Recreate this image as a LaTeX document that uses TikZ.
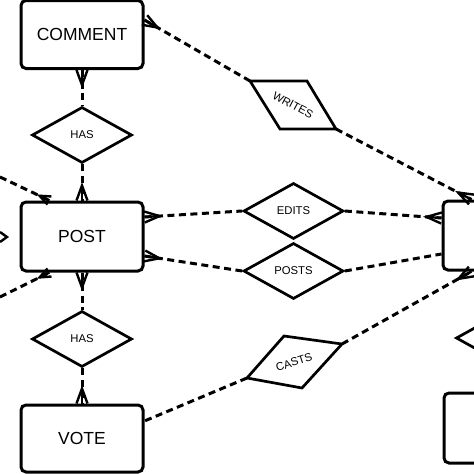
\documentclass[tikz,border=0pt]{standalone}
\usepackage{fontspec}
\setmainfont{Liberation Sans}
\usetikzlibrary{shapes.geometric,calc}
\tikzset{
  entity/.style={draw, line width=3pt, rounded corners=5pt, minimum width=122pt, inner sep=0pt, font=\fontsize{17.5}{20}\selectfont},
  rel/.style={draw, diamond, line width=2.7pt, minimum width=100pt, minimum height=56pt, inner sep=0pt, font=\fontsize{11.3}{13}\selectfont},
  lbl/.style={inner sep=0pt, font=\fontsize{11.3}{13}\selectfont},
  link/.style={line width=3pt, dash pattern=on 7pt off 4.5pt},
  crowline/.style={line width=2.4pt, solid, line join=miter},
  pgram/.style={draw, line width=2.7pt, line join=miter}
}
\newcommand{\crowfoot}[4]{%
  \draw[crowline] ($(#1)!#4!90:(#2)$) -- ($(#1)!#3!(#2)$) -- ($(#1)!#4!-90:(#2)$);
  \draw[crowline] (#1) -- ($(#1)!#3!(#2)$);}
\begin{document}
\begin{tikzpicture}[x=1pt,y=-1pt]
\useasboundingbox (0,0) rectangle (474,474);
\fill[white] (0,0) rectangle (474,474);
\begin{scope}
\clip (0,0) rectangle (474,474);
% entities
\node[entity, minimum height=68pt] (comment) at (82,34.5) {COMMENT};
\node[entity, minimum height=69pt] (post) at (82,236.5) {POST};
\node[entity, minimum height=67pt] (vote) at (82,438.5) {VOTE};
\node[entity, minimum height=69pt] (user) at (504,235.5) {};
\node[entity, minimum height=70pt] (other) at (505,428) {};
% relationships
\node[rel] (has1) at (82,135) {HAS};
\node[rel] (has2) at (82,339) {HAS};
\node[rel] (edits) at (293.5,211) {EDITS};
\node[rel] (posts) at (293.5,271) {POSTS};
\node[rel] (rright) at (506,338) {};
% parallelograms
\coordinate (W1) at (250,81);
\coordinate (W2) at (307,81);
\coordinate (W3) at (336,129);
\coordinate (W4) at (280,129);
\draw[pgram] (W1) -- (W2) -- (W3) -- (W4) -- cycle;
\node[lbl, rotate=-28] (writes) at (293,105) {WRITES};
\coordinate (C1) at (284,336);
\coordinate (C2) at (342,344);
\coordinate (C3) at (302,388);
\coordinate (C4) at (247,378);
\draw[pgram] (C1) -- (C2) -- (C3) -- (C4) -- cycle;
\node[lbl, rotate=18] (casts) at (294,362) {CASTS};
% connector ends
\coordinate (cE) at ($(comment.east)+(0,-14.5)$);
\coordinate (pE1) at ($(post.east)+(0,-19.5)$);
\coordinate (pE2) at ($(post.east)+(0,19.5)$);
\coordinate (uW1) at ($(user.west)+(0,-17.5)$);
\coordinate (uW2) at ($(user.west)+(0,18.5)$);
\coordinate (uN) at ($(user.north west)+(30,0)$);
\coordinate (uS) at ($(user.south west)+(30,0)$);
\coordinate (vE) at ($(vote.east)+(0,-17.5)$);
\coordinate (pNW) at ($(post.north west)+(30,0)$);
\coordinate (pSW) at ($(post.south west)+(30,0)$);
\coordinate (L1) at (0,177);
\coordinate (L2) at (0,297);
% links
\draw[link] (cE) -- (W1);
\draw[link] (W3) -- (uN);
\draw[link] (pE1) -- (edits.west);
\draw[link] (edits.east) -- (uW1);
\draw[link] (pE2) -- (posts.west);
\draw[link] (posts.east) -- (uW2);
\draw[link] (C2) -- (uS);
\draw[link] (C4) -- (vE);
\draw[link] (comment.south) -- (has1.north);
\draw[link] (has1.south) -- (post.north);
\draw[link] (post.south) -- (has2.north);
\draw[link] (has2.south) -- (vote.north);
\draw[link] (L1) -- (pNW);
\draw[link] (L2) -- (pSW);
% crow's feet
\crowfoot{cE}{W1}{15pt}{5.5pt}
\crowfoot{uN}{W3}{15pt}{5.5pt}
\crowfoot{pE1}{edits.west}{15pt}{5.5pt}
\crowfoot{uW1}{edits.east}{15pt}{5.5pt}
\crowfoot{pE2}{posts.west}{15pt}{5.5pt}
\crowfoot{uS}{C2}{15pt}{5.5pt}
\crowfoot{comment.south}{has1.north}{15pt}{5.5pt}
\crowfoot{post.north}{has1.south}{15pt}{5.5pt}
\crowfoot{post.south}{has2.north}{15pt}{5.5pt}
\crowfoot{vote.north}{has2.south}{15pt}{5.5pt}
\crowfoot{pNW}{L1}{11pt}{4.5pt}
\crowfoot{pSW}{L2}{11pt}{4.5pt}
\coordinate (chA) at (0,232);
\coordinate (chB) at (7,237);
\coordinate (chC) at (0,242);
\draw[crowline] (chA) -- (chB) -- (chC);
\end{scope}
\end{tikzpicture}
\end{document}
